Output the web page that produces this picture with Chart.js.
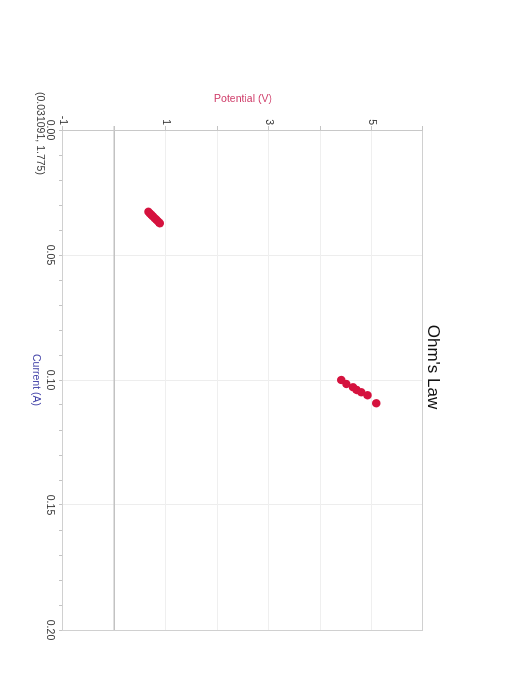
<!DOCTYPE html>
<html lang="en">
<head>
    <meta charset="UTF-8">
    <title>Ohm's Law</title>
    <script src="https://cdn.jsdelivr.net/npm/chart.js"></script>
    <style>
        html, body {
            margin: 0;
            padding: 0;
            background: #ffffff;
            overflow: hidden;
        }
        /* the whole graph is turned a quarter turn clockwise */
        .turned {
            position: absolute;
            left: 0;
            top: 0;
            width: 700px;
            height: 519px;
            transform-origin: top left;
            transform: translateX(519px) rotate(90deg);
        }
    </style>
</head>
<body>
    <div class="turned">
        <canvas id="ohmChart" width="700" height="519"></canvas>
    </div>
    <script>
        // readings, current in A and potential in V
        const currentA = [0.0327, 0.0334, 0.0340, 0.0346, 0.0354, 0.0360, 0.0366, 0.0373,
                          0.1000, 0.1016, 0.1029, 0.1040, 0.1049, 0.1061, 0.1093];
        const potentialV = [0.66, 0.69, 0.72, 0.75, 0.79, 0.82, 0.85, 0.88,
                            4.41, 4.51, 4.64, 4.71, 4.80, 4.92, 5.09];
        const currentTicks = [0.00, 0.05, 0.10, 0.15, 0.20];
        const potentialTicks = [-1, 1, 3, 5];
        const chartTitle = "Ohm's Law";
        const cursorText = "(0.031091, 1.775)";

        const points = currentA.map((c, i) => ({ x: c, y: potentialV[i] }));
        const family = "'Liberation Sans', Arial, sans-serif";
        const font = { family: family, size: 10.5 };

        const isMajor = v => currentTicks.some(t => Math.abs(t - v) < 1e-6);

        // title sits a bit off the plot centre, and the cursor readout in the corner
        const extraText = {
            id: 'extraText',
            afterDraw(chart) {
                const c = chart.ctx;
                c.save();
                c.textBaseline = 'middle';
                c.font = '17px ' + family;
                c.fillStyle = '#111111';
                c.textAlign = 'center';
                c.fillText(chartTitle, 367, 86);
                c.font = '10.5px ' + family;
                c.fillStyle = '#3a3a3a';
                c.textAlign = 'left';
                c.fillText(cursorText, 92, 479);
                c.restore();
            }
        };

        new Chart(document.getElementById('ohmChart'), {
            type: 'scatter',
            data: {
                datasets: [{
                    label: 'Potential',
                    data: points,
                    backgroundColor: '#d5123e',
                    borderColor: '#d5123e',
                    pointRadius: 4.2,
                    pointBorderWidth: 0
                }]
            },
            options: {
                responsive: false,
                animation: false,
                layout: { padding: { left: 89, right: 70, top: 96, bottom: 28 } },
                plugins: {
                    legend: { display: false },
                    tooltip: { enabled: false },
                    title: { display: false }
                },
                scales: {
                    x: {
                        type: 'linear',
                        min: 0,
                        max: 0.2,
                        afterFit: s => { s.height = 35; },
                        border: { color: '#d0d0d0' },
                        grid: {
                            color: ctx => {
                                const v = ctx.tick ? ctx.tick.value : 0;
                                if (Math.abs(v - 0.2) < 1e-6) return '#d0d0d0';
                                return isMajor(v) ? '#ededed' : 'rgba(0,0,0,0)';
                            },
                            tickColor: '#c4c4c4',
                            tickLength: 4
                        },
                        ticks: {
                            stepSize: 0.01,
                            autoSkip: false,
                            maxRotation: 0,
                            padding: 3,
                            color: '#333333',
                            font: font,
                            callback: v => isMajor(v) ? v.toFixed(2) : ''
                        },
                        title: {
                            display: true,
                            text: 'Current (A)',
                            color: '#4343a8',
                            font: font,
                            padding: { top: 0, bottom: 2 }
                        }
                    },
                    y: {
                        min: -1,
                        max: 6,
                        afterFit: s => { s.width = 41; },
                        border: { color: '#c8c8c8' },
                        grid: {
                            color: ctx => {
                                const v = ctx.tick ? ctx.tick.value : 0;
                                if (v === 0) return '#c2c2c2';
                                if (v === 6) return '#d0d0d0';
                                return '#efefef';
                            },
                            lineWidth: ctx => (ctx.tick && ctx.tick.value === 0) ? 1.5 : 1,
                            tickColor: '#c4c4c4',
                            tickLength: 4
                        },
                        ticks: {
                            stepSize: 1,
                            autoSkip: false,
                            padding: 1,
                            color: '#333333',
                            font: font,
                            callback: v => potentialTicks.includes(v) ? String(v) : ''
                        },
                        title: {
                            display: true,
                            text: 'Potential (V)',
                            color: '#d0406c',
                            font: font,
                            padding: { top: 4, bottom: 4 }
                        }
                    }
                }
            },
            plugins: [extraText]
        });
    </script>
</body>
</html>
